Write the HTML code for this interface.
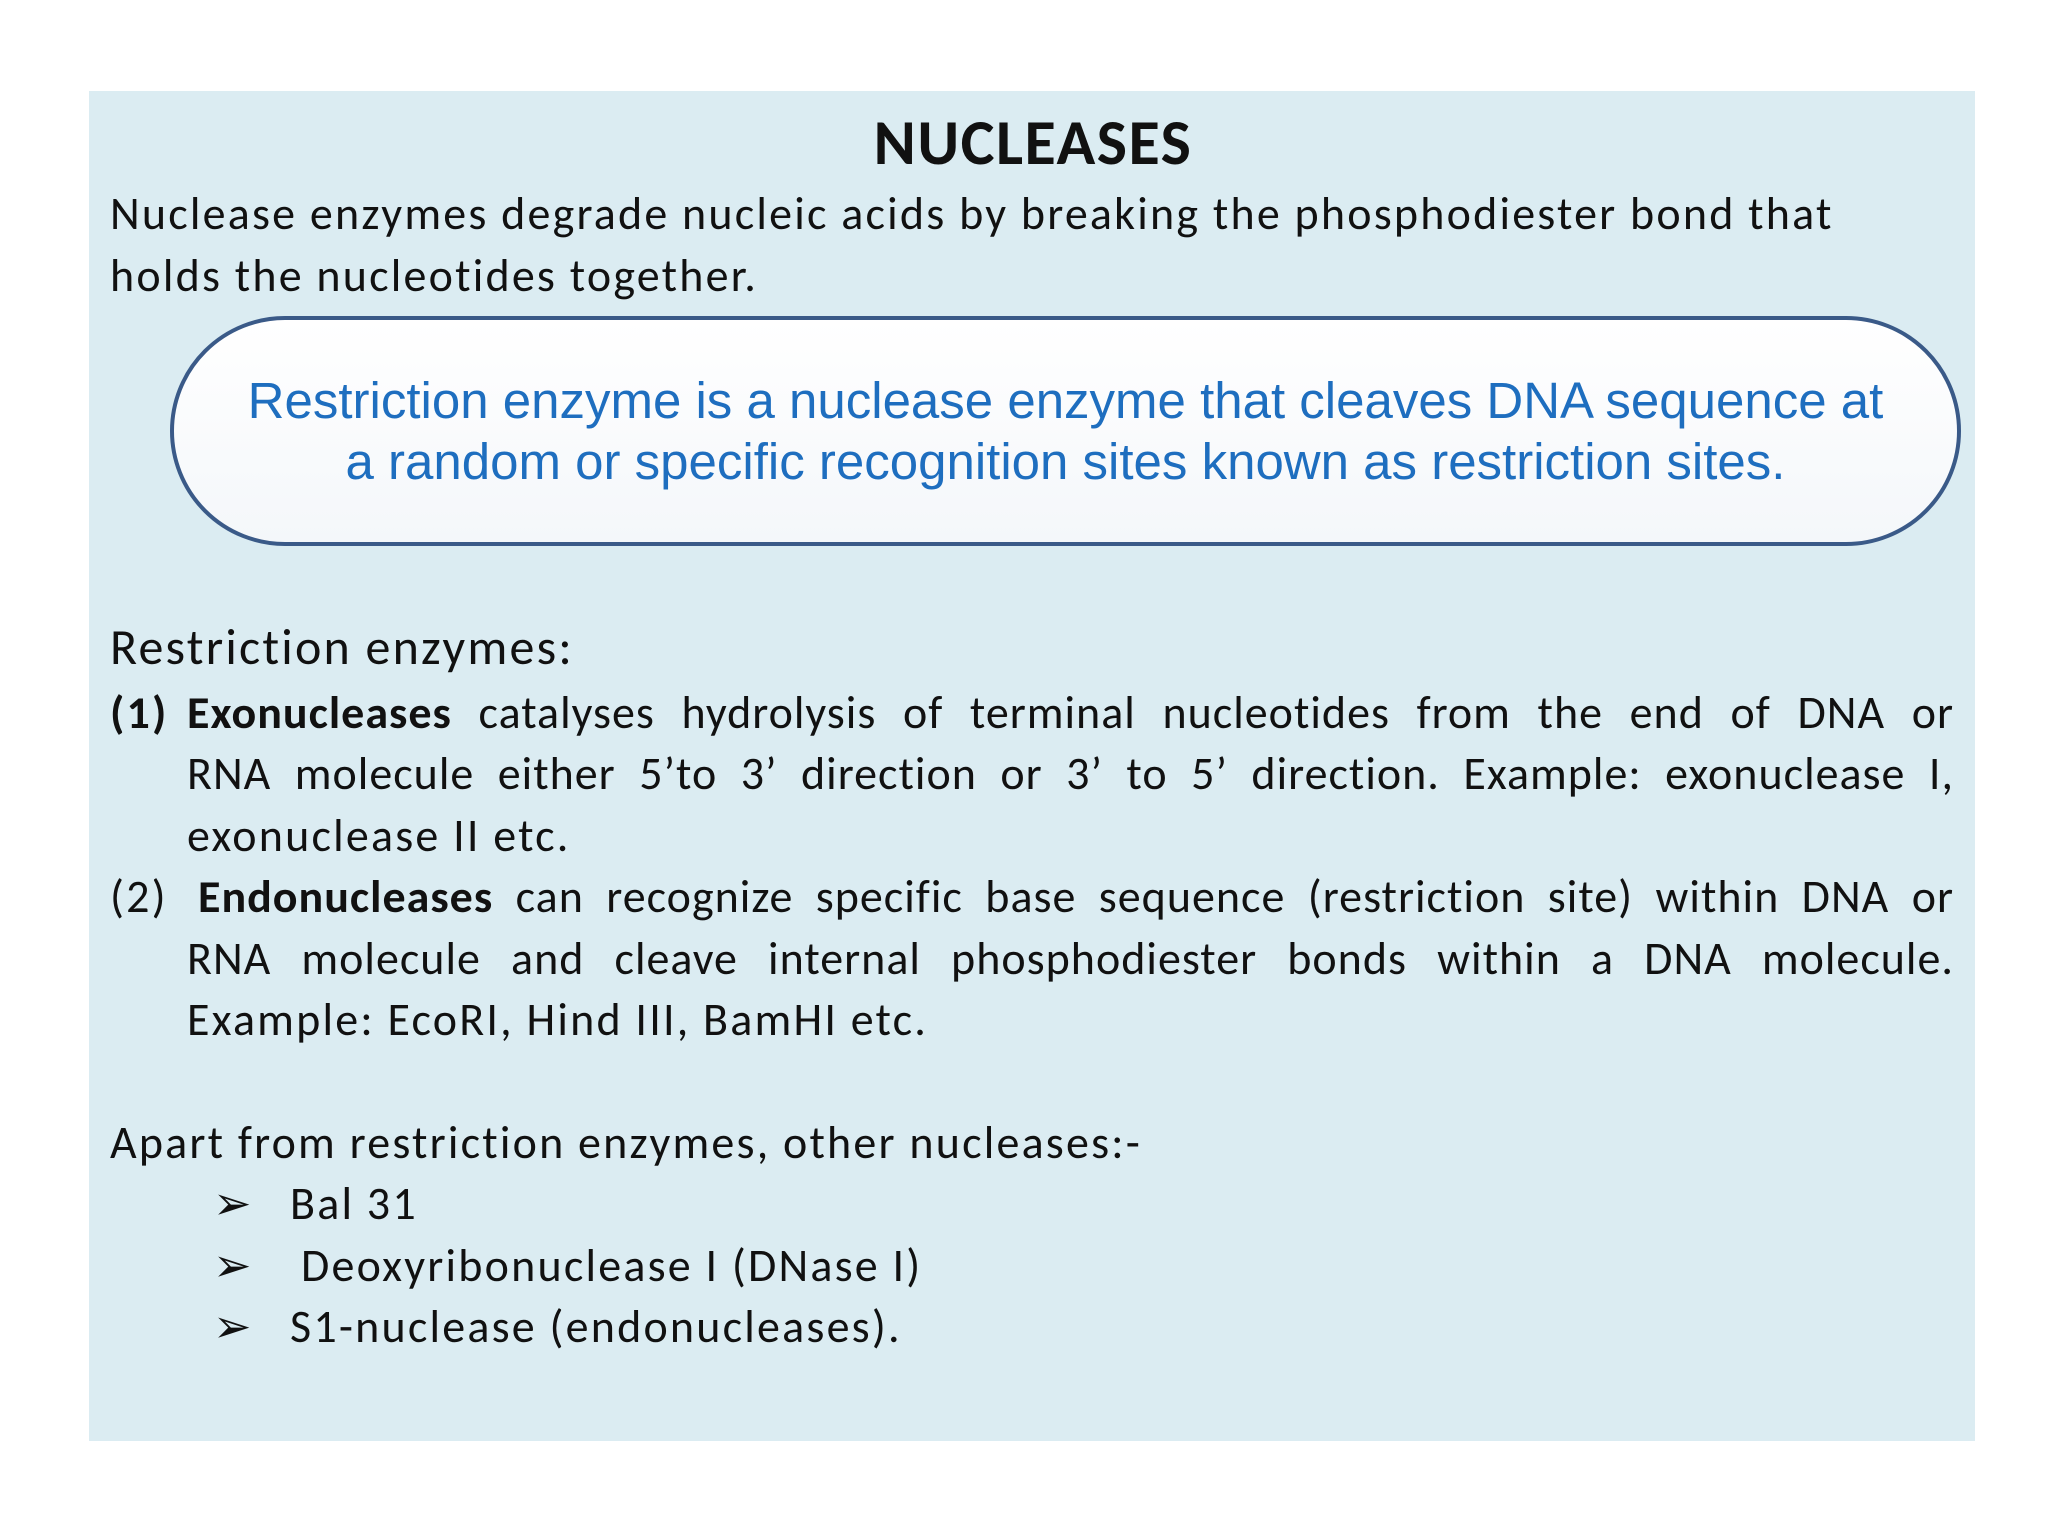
<!DOCTYPE html>
<html><head><meta charset="utf-8"><style>
body{margin:0;width:2048px;height:1536px;background:#fff;position:relative;overflow:hidden;font-family:"Carlito","Liberation Sans",sans-serif;color:#111;}
#panel{position:absolute;left:89px;top:91px;width:1886px;height:1350px;background:#dbecf2;}
.l{position:absolute;font-size:46px;letter-spacing:2.2px;line-height:60px;white-space:nowrap;}
.j{text-align:justify;text-align-last:justify;white-space:normal;letter-spacing:1px;}
#box{position:absolute;left:170px;top:316px;width:1783px;height:222px;border:4px solid #3a5a88;border-radius:115px;background:linear-gradient(#fff,#f4f7fa);}
.b{position:absolute;left:170px;width:1791px;text-align:center;color:#1e6ebf;font-family:"Liberation Sans",sans-serif;font-size:51px;line-height:60px;}
</style></head><body>
<div id="panel"></div>
<div class="l" style="left:0;width:2066px;text-align:center;top:108px;font-size:64px;letter-spacing:1.5px;line-height:70px;font-weight:bold;">NUCLEASES</div>
<div class="l" style="left:110px;top:184px;">Nuclease enzymes degrade nucleic acids by breaking the phosphodiester bond that</div>
<div class="l" style="left:110px;top:246px;">holds the nucleotides together.</div>
<div id="box"></div>
<div class="b" style="top:371px;">Restriction enzyme is a nuclease enzyme that cleaves DNA sequence at</div>
<div class="b" style="top:432px;">a random or specific recognition sites known as restriction sites.</div>
<div class="l" style="left:110px;top:618px;font-size:50px;">Restriction enzymes:</div>
<div class="l" style="left:110px;top:683px;"><b>(1)</b></div>
<div class="l j" style="left:187px;width:1767px;top:683px;"><b>Exonucleases</b> catalyses hydrolysis of terminal nucleotides from the end of DNA or</div>
<div class="l j" style="left:187px;width:1767px;top:744px;">RNA molecule either 5’to 3’ direction or 3’ to 5’ direction. Example: exonuclease I,</div>
<div class="l" style="left:187px;top:806px;">exonuclease II etc.</div>
<div class="l" style="left:110px;top:867px;">(2)</div>
<div class="l j" style="left:198px;width:1756px;top:867px;"><b>Endonucleases</b> can recognize specific base sequence (restriction site) within DNA or</div>
<div class="l j" style="left:187px;width:1767px;top:929px;">RNA molecule and cleave internal phosphodiester bonds within a DNA molecule.</div>
<div class="l" style="left:187px;top:990px;">Example: EcoRI, Hind III, BamHI etc.</div>
<div class="l" style="left:110px;top:1113px;">Apart from restriction enzymes, other nucleases:-</div>
<div class="l" style="left:213px;top:1174px;">➢</div><div class="l" style="left:290px;top:1174px;">Bal 31</div>
<div class="l" style="left:213px;top:1236px;">➢</div><div class="l" style="left:301px;top:1236px;">Deoxyribonuclease I (DNase I)</div>
<div class="l" style="left:213px;top:1297px;">➢</div><div class="l" style="left:290px;top:1297px;">S1-nuclease (endonucleases).</div>
</body></html>
